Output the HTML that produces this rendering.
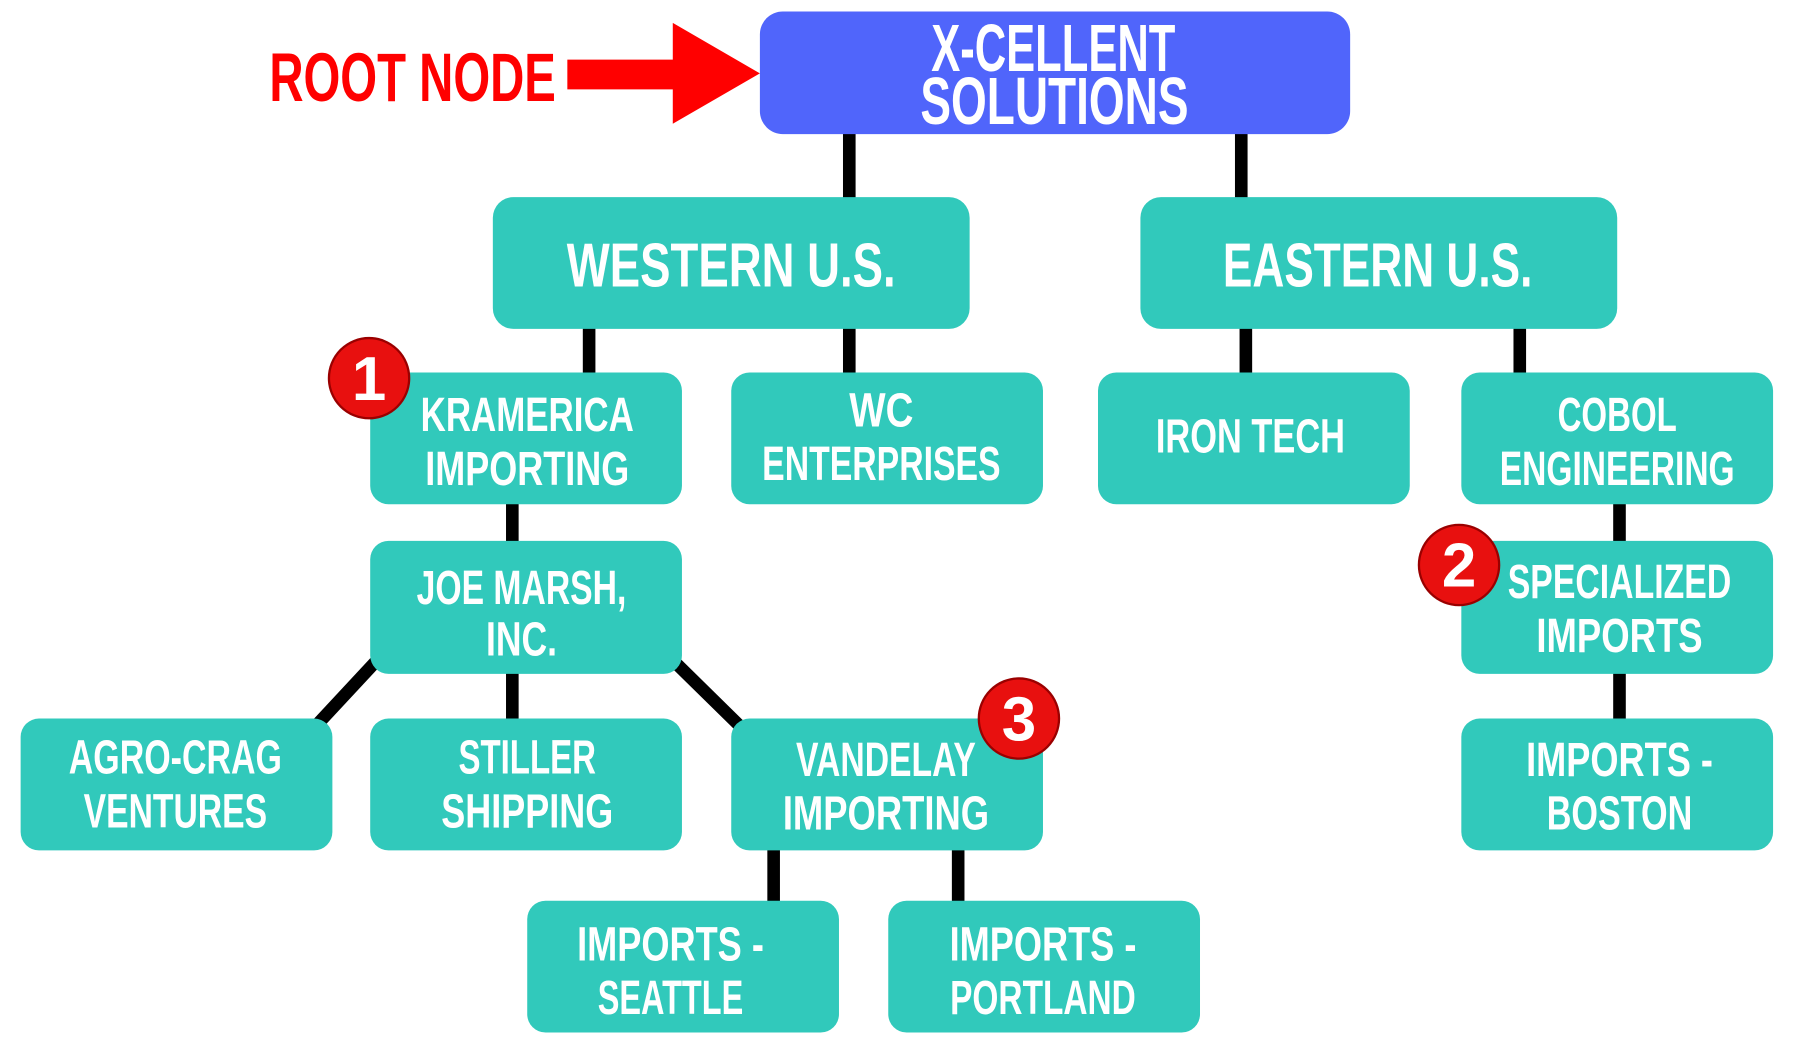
<!DOCTYPE html>
<html><head><meta charset="utf-8"><style>
html,body{margin:0;padding:0;background:#fff;width:1796px;height:1062px;overflow:hidden}
svg{display:block}
text{font-family:"Liberation Sans Narrow","Liberation Sans",sans-serif;font-weight:bold;fill:#fff;text-anchor:middle}
</style></head><body>
<svg width="1796" height="1062" viewBox="0 0 1567 926.7" preserveAspectRatio="none" xmlns="http://www.w3.org/2000/svg">
<g stroke="#000" stroke-width="11">
<line x1="741" y1="110" x2="741" y2="180"/><line x1="1083" y1="110" x2="1083" y2="180"/>
<line x1="514" y1="280" x2="514" y2="330"/><line x1="741" y1="280" x2="741" y2="330"/>
<line x1="1087" y1="280" x2="1087" y2="330"/><line x1="1326" y1="280" x2="1326" y2="330"/>
<line x1="447" y1="435" x2="447" y2="478"/><line x1="1413" y1="435" x2="1413" y2="478"/>
<line x1="1413" y1="582" x2="1413" y2="632"/><line x1="447" y1="582" x2="447" y2="632"/>
<line x1="330" y1="575" x2="276" y2="633"/><line x1="588" y1="577" x2="646" y2="634"/>
<line x1="675" y1="736" x2="675" y2="792"/><line x1="836" y1="736" x2="836" y2="792"/>
</g>
<rect x="663" y="10" width="515" height="107" rx="20" fill="#5065fb"/>
<g fill="#31c9bb">
<rect x="430" y="172" width="416" height="115" rx="18"/>
<rect x="995" y="172" width="416" height="115" rx="18"/>
<rect x="323" y="325" width="272" height="115" rx="16"/>
<rect x="638" y="325" width="272" height="115" rx="16"/>
<rect x="958" y="325" width="272" height="115" rx="16"/>
<rect x="1275" y="325" width="272" height="115" rx="16"/>
<rect x="323" y="472" width="272" height="116" rx="16"/>
<rect x="1275" y="472" width="272" height="116" rx="16"/>
<rect x="18" y="627" width="272" height="115" rx="16"/>
<rect x="323" y="627" width="272" height="115" rx="16"/>
<rect x="638" y="627" width="272" height="115" rx="16"/>
<rect x="1275" y="627" width="272" height="115" rx="16"/>
<rect x="460" y="786" width="272" height="115" rx="16"/>
<rect x="775" y="786" width="272" height="115" rx="16"/>
</g>
<polygon points="495,52 587,52 587,20 663,64 587,108 587,78 495,78" fill="#f00"/>
<text x="360" y="88" font-size="60" textLength="250" lengthAdjust="spacingAndGlyphs" style="fill:#f00">ROOT NODE</text>
<g font-size="58">
<text x="919" y="62" textLength="213" lengthAdjust="spacingAndGlyphs">X-CELLENT</text>
<text x="920" y="108" textLength="234" lengthAdjust="spacingAndGlyphs">SOLUTIONS</text>
</g>
<g font-size="54">
<text x="638" y="250" textLength="287" lengthAdjust="spacingAndGlyphs">WESTERN U.S.</text>
<text x="1202" y="250" textLength="270" lengthAdjust="spacingAndGlyphs">EASTERN U.S.</text>
</g>
<g font-size="42">
<text x="460" y="376" textLength="186" lengthAdjust="spacingAndGlyphs">KRAMERICA</text>
<text x="460" y="423" textLength="178" lengthAdjust="spacingAndGlyphs">IMPORTING</text>
<text x="769" y="372" textLength="56" lengthAdjust="spacingAndGlyphs">WC</text>
<text x="769" y="419" textLength="208" lengthAdjust="spacingAndGlyphs">ENTERPRISES</text>
<text x="1091" y="395" textLength="165" lengthAdjust="spacingAndGlyphs">IRON TECH</text>
<text x="1411" y="376" textLength="104" lengthAdjust="spacingAndGlyphs">COBOL</text>
<text x="1411" y="423" textLength="205" lengthAdjust="spacingAndGlyphs">ENGINEERING</text>
<text x="455" y="527" textLength="183" lengthAdjust="spacingAndGlyphs">JOE MARSH,</text>
<text x="455" y="572" textLength="62" lengthAdjust="spacingAndGlyphs">INC.</text>
<text x="1413" y="522" textLength="195" lengthAdjust="spacingAndGlyphs">SPECIALIZED</text>
<text x="1413" y="569" textLength="145" lengthAdjust="spacingAndGlyphs">IMPORTS</text>
<text x="153" y="675" textLength="186" lengthAdjust="spacingAndGlyphs">AGRO-CRAG</text>
<text x="153" y="722" textLength="160" lengthAdjust="spacingAndGlyphs">VENTURES</text>
<text x="460" y="675" textLength="120" lengthAdjust="spacingAndGlyphs">STILLER</text>
<text x="460" y="722" textLength="150" lengthAdjust="spacingAndGlyphs">SHIPPING</text>
<text x="773" y="677" textLength="157" lengthAdjust="spacingAndGlyphs">VANDELAY</text>
<text x="773" y="724" textLength="180" lengthAdjust="spacingAndGlyphs">IMPORTING</text>
<text x="1413" y="677" textLength="163" lengthAdjust="spacingAndGlyphs">IMPORTS -</text>
<text x="1413" y="724" textLength="127" lengthAdjust="spacingAndGlyphs">BOSTON</text>
<text x="585" y="838" textLength="163" lengthAdjust="spacingAndGlyphs">IMPORTS -</text>
<text x="585" y="885" textLength="127" lengthAdjust="spacingAndGlyphs">SEATTLE</text>
<text x="910" y="838" textLength="163" lengthAdjust="spacingAndGlyphs">IMPORTS -</text>
<text x="910" y="885" textLength="162" lengthAdjust="spacingAndGlyphs">PORTLAND</text>
</g>
<g fill="#e8100f" stroke="#9a0000" stroke-width="2">
<circle cx="322" cy="330" r="35"/><circle cx="1273" cy="493" r="35"/><circle cx="889" cy="627" r="35"/>
</g>
<g font-size="54" style="font-family:'Liberation Sans',sans-serif;font-weight:normal">
<text x="322" y="349">1</text><text x="1273" y="512">2</text><text x="889" y="646">3</text>
</g>
</svg>
</body></html>
